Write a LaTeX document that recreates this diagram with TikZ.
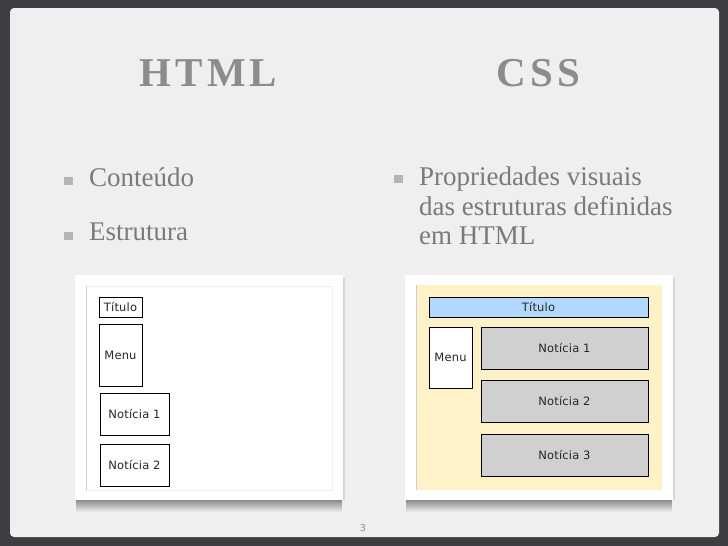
\documentclass[tikz,border=0pt]{standalone}
\usepackage{fontspec}
\setmainfont{Liberation Serif}
\newfontfamily\titlefont{Liberation Serif Bold}[LetterSpace=10]
\newfontfamily\bodyfont{Liberation Serif}
\newfontfamily\boxfont{DejaVu Sans}[LetterSpace=1.5]
\usetikzlibrary{fadings}
\definecolor{darkframe}{HTML}{3E3E42}
\definecolor{slidebg}{HTML}{EFEFEF}
\definecolor{titlegray}{HTML}{8C8C8C}
\definecolor{textgray}{HTML}{7A7A7A}
\definecolor{bulletgray}{HTML}{B4B4B4}
\definecolor{cssyellow}{HTML}{FFF2C9}
\definecolor{cssblue}{HTML}{B3D8FF}
\definecolor{newsgray}{HTML}{D0D0D0}
\definecolor{innerline}{HTML}{EEEEEE}
\definecolor{innerleft}{HTML}{CCCCCC}
\begin{document}
\begin{tikzpicture}[x=1pt,y=-1pt,
  box/.style={draw=black, line width=1pt, inner sep=0pt, text=black!85,
    font=\boxfont\fontsize{11.5}{13}\selectfont},
  title/.style={inner sep=0pt, anchor=base, text=titlegray,
    font=\titlefont\fontsize{41}{45}\selectfont},
  body/.style={inner sep=0pt, anchor=base west, text=textgray,
    font=\bodyfont\fontsize{27}{30}\selectfont},
  bullet/.style={fill=bulletgray},
  panel/.style={fill=white},
  shadowband/.style={fill=black, opacity=0.45, path fading=south}
]
\useasboundingbox (0,0) rectangle (728,546);
% slide
\fill[darkframe] (0,0) rectangle (728,546);
\fill[slidebg, rounded corners=4pt] (10,8) rectangle (719,537);

% titles
\node[title] (thtml) at (208.5,86) {HTML};
\node[title] (tcss) at (538.5,86) {CSS};

% bullets
\fill[bullet] (64,177) rectangle (73,185);
\fill[bullet] (64,232) rectangle (73,240);
\fill[bullet] (394,175) rectangle (403,183);
\node[body] (b1) at (89,186.5) {Conteúdo};
\node[body] (b2) at (89,240.5) {Estrutura};
\node[body] (c1) at (419,185) {Propriedades visuais};
\node[body] (c2) at (419,215) {das estruturas definidas};
\node[body] (c3) at (419,244) {em HTML};

% shadows
\fill[shadowband] (76,499) rectangle (342,512);
\fill[shadowband] (406,499) rectangle (672,512);
\fill[black, opacity=0.10] (343,278) rectangle (345,500);
\fill[black, opacity=0.10] (673,278) rectangle (675,500);

% left panel
\fill[panel] (75,275) rectangle (343,500);
\draw[innerline, line width=0.8pt] (86,286) rectangle (332,490);
\draw[innerleft, line width=1pt] (86,286) -- (86,490);

% right panel
\fill[panel] (405,275) rectangle (673,500);
\fill[cssyellow] (416,285) rectangle (662,490);
\draw[innerleft, line width=1pt] (416,285) -- (416,490);

% left boxes
\node[box, minimum width=43pt, minimum height=20pt] (ltitle) at (120.5,307) {Título};
\node[box, minimum width=43pt, minimum height=62pt] (lmenu) at (120.5,355) {Menu};
\node[box, minimum width=69pt, minimum height=42pt] (ln1) at (134.5,414) {Notícia 1};
\node[box, minimum width=69pt, minimum height=42pt] (ln2) at (134.5,465) {Notícia 2};

% right boxes
\node[box, fill=cssblue, minimum width=219pt, minimum height=20pt] (rtitle) at (538.5,307) {Título};
\node[box, fill=white, minimum width=43pt, minimum height=61pt] (rmenu) at (450.5,357.5) {Menu};
\node[box, fill=newsgray, minimum width=167pt, minimum height=42pt] (rn1) at (564.5,348) {Notícia 1};
\node[box, fill=newsgray, minimum width=167pt, minimum height=42pt] (rn2) at (564.5,401) {Notícia 2};
\node[box, fill=newsgray, minimum width=167pt, minimum height=42pt] (rn3) at (564.5,455) {Notícia 3};

% page number
\node[inner sep=0pt, text=titlegray, font=\boxfont\fontsize{9.5}{10}\selectfont] (pnum) at (363,528.5) {3};
\end{tikzpicture}
\end{document}
